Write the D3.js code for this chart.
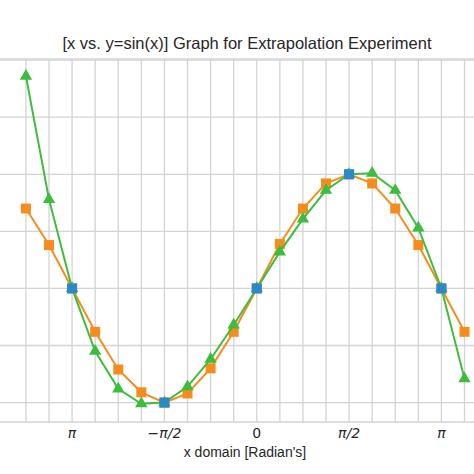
<!DOCTYPE html>
<html>
<head>
<meta charset="utf-8">
<script src="https://cdn.jsdelivr.net/npm/d3@7"></script>
<style>
  body { margin: 0; background: #fff; }
  svg { display: block; font-family: "Liberation Sans", Arial, sans-serif; }
</style>
</head>
<body>
<script>
// pasos de pi/8 (x = paso * pi/8)
var pasos = [-10, -9, -8, -7, -6, -5, -4, -3, -2, -1, 0, 1, 2, 3, 4, 5, 6, 7, 8, 9];

// serie naranja (cuadrados)
var valoresNaranja = [0.70, 0.38, 0.00, -0.38, -0.71, -0.91, -1.00, -0.92, -0.70, -0.38,
                      0.00, 0.39, 0.70, 0.92, 1.00, 0.92, 0.70, 0.38, 0.00, -0.38];

// serie verde (triangulos)
var valoresVerde = [1.86, 0.78, 0.00, -0.55, -0.88, -1.01, -1.00, -0.86, -0.62, -0.32,
                    0.00, 0.32, 0.61, 0.86, 1.00, 1.01, 0.86, 0.53, 0.00, -0.79];

// puntos de entrenamiento (azul)
var pasosAzul = [-8, -4, 0, 4, 8];
var valoresAzul = [0, -1, 0, 1, 0];

// etiquetas del eje x
var ticksX = [-8, -4, 0, 4, 8];
var etiquetasX = ["\u03c0", "\u2212\u03c0/2", "0", "\u03c0/2", "\u03c0"];
var gridY = [-1, -0.5, 0, 0.5, 1, 1.5, 2];

var anchoSvg = 474, altoSvg = 474;

var escalaX = d3.scaleLinear()
    .domain([-4.30, 3.90])
    .range([4, 486]);

var escalaY = d3.scaleLinear()
    .domain([-1.17, 2.01])
    .range([422, 59]);

var svg = d3.select('body')
    .append('svg')
    .attr('width', anchoSvg)
    .attr('height', altoSvg);

// rejilla vertical cada pi/8
var gridX = d3.range(-10, 10);
svg.append('g')
    .selectAll('line')
    .data(gridX)
    .enter()
    .append('line')
    .attr('x1', d => escalaX(d * Math.PI / 8))
    .attr('x2', d => escalaX(d * Math.PI / 8))
    .attr('y1', escalaY.range()[1])
    .attr('y2', escalaY.range()[0])
    .attr('stroke', '#d4d4d4')
    .attr('stroke-width', 1.3);

// rejilla horizontal
svg.append('g')
    .selectAll('line')
    .data(gridY)
    .enter()
    .append('line')
    .attr('x1', 0)
    .attr('x2', anchoSvg)
    .attr('y1', d => escalaY(d))
    .attr('y2', d => escalaY(d))
    .attr('stroke', '#d4d4d4')
    .attr('stroke-width', 1.3);

// borde superior e inferior
[escalaY.range()[0], escalaY.range()[1]].forEach(y => {
    svg.append('line')
        .attr('x1', 0).attr('x2', anchoSvg)
        .attr('y1', y).attr('y2', y)
        .attr('stroke', '#d4d4d4')
        .attr('stroke-width', 1.5);
});

var datosNaranja = pasos.map((p, i) => ({x: p * Math.PI / 8, y: valoresNaranja[i]}));
var datosVerde = pasos.map((p, i) => ({x: p * Math.PI / 8, y: valoresVerde[i]}));
var datosAzul = pasosAzul.map((p, i) => ({x: p * Math.PI / 8, y: valoresAzul[i]}));

var linea = d3.line()
    .x(d => escalaX(d.x))
    .y(d => escalaY(d.y));

var colorNaranja = '#f78c1e',
    colorVerde = '#3dbd3d',
    colorAzul = '#2b88cc';

// naranja
svg.append('path')
    .attr('d', linea(datosNaranja))
    .attr('fill', 'none')
    .attr('stroke', colorNaranja)
    .attr('stroke-width', 2);
svg.append('g')
    .selectAll('rect')
    .data(datosNaranja)
    .enter()
    .append('rect')
    .attr('x', d => escalaX(d.x) - 5)
    .attr('y', d => escalaY(d.y) - 5)
    .attr('width', 10)
    .attr('height', 10)
    .attr('fill', colorNaranja);

// verde
svg.append('path')
    .attr('d', linea(datosVerde))
    .attr('fill', 'none')
    .attr('stroke', colorVerde)
    .attr('stroke-width', 2);
var triangulo = d3.symbol().type(d3.symbolTriangle).size(66);
svg.append('g')
    .selectAll('path')
    .data(datosVerde)
    .enter()
    .append('path')
    .attr('d', triangulo)
    .attr('transform', d => 'translate(' + escalaX(d.x) + ',' + escalaY(d.y) + ')')
    .attr('fill', colorVerde);

// azul
svg.append('g')
    .selectAll('rect')
    .data(datosAzul)
    .enter()
    .append('rect')
    .attr('x', d => escalaX(d.x) - 5)
    .attr('y', d => escalaY(d.y) - 5)
    .attr('width', 10)
    .attr('height', 10)
    .attr('fill', colorAzul);

// etiquetas eje x
svg.append('g')
    .selectAll('text')
    .data(ticksX)
    .enter()
    .append('text')
    .attr('x', d => escalaX(d * Math.PI / 8))
    .attr('y', 438)
    .attr('text-anchor', 'middle')
    .style('font-family', '"DejaVu Sans", sans-serif')
    .style('font-style', (d, i) => i == 2 ? 'normal' : 'italic')
    .style('font-size', '14px')
    .attr('fill', '#262626')
    .text((d, i) => etiquetasX[i]);

// titulo eje x
svg.append('text')
    .attr('x', 245)
    .attr('y', 457)
    .attr('text-anchor', 'middle')
    .style('font-size', '14px')
    .attr('fill', '#262626')
    .text("x domain [Radian's]");

// titulo
svg.append('text')
    .attr('x', 247)
    .attr('y', 49)
    .attr('text-anchor', 'middle')
    .style('font-size', '16.5px')
    .attr('fill', '#262626')
    .text('[x vs. y=sin(x)] Graph for Extrapolation Experiment');
</script>
</body>
</html>
